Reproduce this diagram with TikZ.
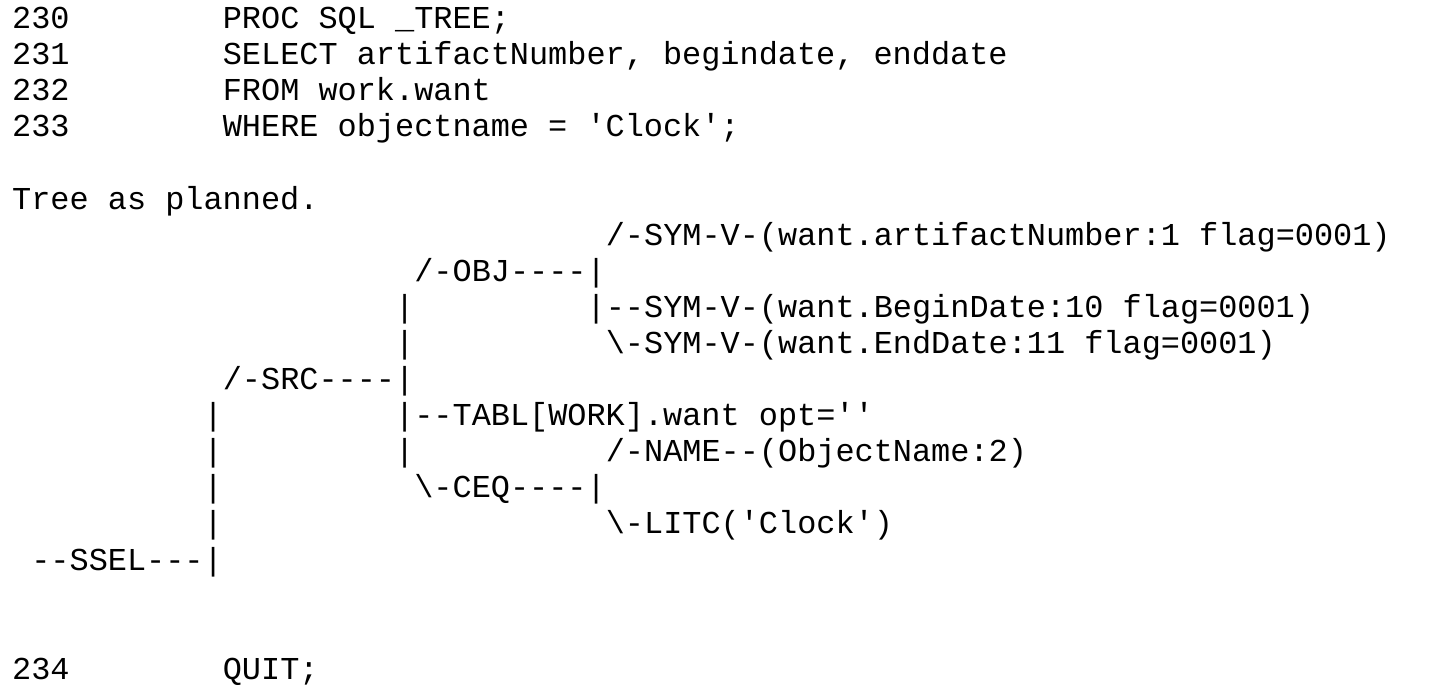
\documentclass[tikz,border=0pt]{standalone}
\usepackage{fontspec}
\newfontfamily\cmono{Liberation Mono}
\newcommand{\bs}{\textbackslash}
\newcommand{\sq}{\textquotesingle}
\begin{document}
\begin{tikzpicture}[x=1pt,y=-1pt,
  t/.style={anchor=base west,inner sep=0pt,font=\cmono\fontsize{31.9}{36}\selectfont}]
\useasboundingbox[fill=white] (0,0) rectangle (1452,690);
\def\cw{19.15}
\newcommand{\tl}[4]{\node[t] (#1) at ({12+\cw*#2},#3) {#4};}
\tl{n230}{0}{29}{230}
\tl{c230}{11}{29}{PROC SQL \_TREE;}
\tl{n231}{0}{65}{231}
\tl{c231}{11}{65}{SELECT artifactNumber, begindate, enddate}
\tl{n232}{0}{101}{232}
\tl{c232}{11}{101}{FROM work.want}
\tl{n233}{0}{137}{233}
\tl{c233}{11}{137}{WHERE objectname = \sq Clock\sq;}
\tl{tap}{0}{209}{Tree as planned.}
\tl{a1}{31}{245}{/-SYM-V-(want.artifactNumber:1 flag=0001)}
\tl{a2}{21}{281}{/-OBJ----|}
\tl{a3a}{20}{317}{|}
\tl{a3b}{30}{317}{|--SYM-V-(want.BeginDate:10 flag=0001)}
\tl{a4a}{20}{353}{|}
\tl{a4b}{31}{353}{\bs-SYM-V-(want.EndDate:11 flag=0001)}
\tl{a5}{11}{389}{/-SRC----|}
\tl{a6a}{10}{425}{|}
\tl{a6b}{20}{425}{|--TABL[WORK].want opt=\sq\sq}
\tl{a7a}{10}{461}{|}
\tl{a7b}{20}{461}{|}
\tl{a7c}{31}{461}{/-NAME--(ObjectName:2)}
\tl{a8a}{10}{497}{|}
\tl{a8b}{21}{497}{\bs-CEQ----|}
\tl{a9a}{10}{533}{|}
\tl{a9b}{31}{533}{\bs-LITC(\sq Clock\sq)}
\tl{a10}{1}{570}{--SSEL---|}
\tl{n234}{0}{679}{234}
\tl{c234}{11}{679}{QUIT;}
\end{tikzpicture}
\end{document}
